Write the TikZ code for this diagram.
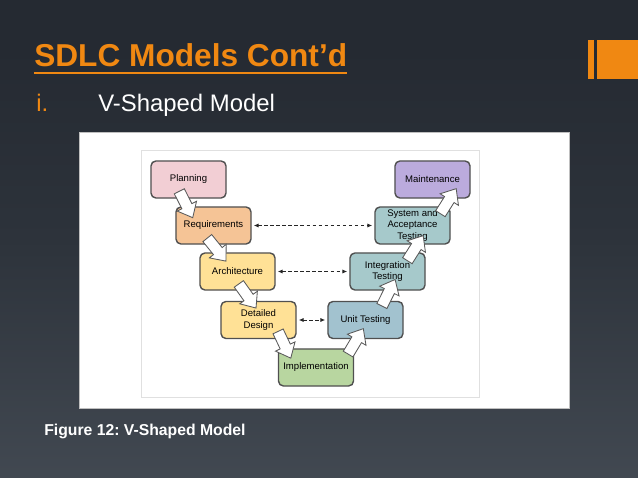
\documentclass[tikz,border=0pt]{standalone}
\usepackage{fontspec}
\setmainfont{Liberation Sans}
\usetikzlibrary{shapes.arrows, arrows.meta, positioning, calc}
\frenchspacing

\definecolor{slideorange}{RGB}{240,136,18}
\definecolor{bgtop}{RGB}{37,42,50}
\definecolor{bgmid}{RGB}{45,51,59}
\definecolor{bglow}{RGB}{68,75,84}
\definecolor{bgbot}{RGB}{98,104,112}
\definecolor{boxline}{RGB}{80,80,80}
\definecolor{planfill}{RGB}{242,206,212}
\definecolor{reqfill}{RGB}{245,196,150}
\definecolor{archfill}{RGB}{255,225,150}
\definecolor{implfill}{RGB}{184,214,160}
\definecolor{unitfill}{RGB}{162,194,207}
\definecolor{testfill}{RGB}{166,201,203}
\definecolor{maintfill}{RGB}{187,171,221}

\pgfdeclareverticalshading{slidebg}{100bp}{color(0bp)=(bgbot); color(22bp)=(bglow); color(50bp)=(bgmid); color(70bp)=(bgtop); color(100bp)=(bgtop)}

\begin{document}
\begin{tikzpicture}[
    x=0.025cm, y=-0.025cm,
    phase/.style={rectangle, draw=boxline, line width=1pt, rounded corners=3.5pt, minimum width=1.875cm, minimum height=0.925cm, inner sep=1pt, align=center, font=\fontsize{6.8}{8.2}\selectfont, text=black},
    flow/.style={single arrow, draw=black!65, fill=white, line width=0.6pt, inner sep=0.13cm, single arrow head extend=0.13cm, single arrow tip angle=80, minimum height=0.74cm, sloped},
    link/.style={{Latex[length=3.4pt,width=3pt]}-{Latex[length=3.4pt,width=3pt]}, dashed, dash pattern=on 2.5pt off 1.8pt, line width=0.65pt, black!85, shorten >=1.5pt, shorten <=1.5pt}
]
    \useasboundingbox (0,0) rectangle (638,478);
    \shade[shading=slidebg] (0,0) rectangle (638,478);

    % heading
    \node[anchor=base west, inner sep=0, text=slideorange, font=\fontsize{22.5}{26}\selectfont\bfseries] (title) at (34,67) {SDLC Models Cont’d};
    \draw[slideorange, line width=1.6pt] ($(title.base west)+(0,6)$) -- ($(title.base east)+(0,6)$);
    \fill[slideorange] (588,40) rectangle (594,79);
    \fill[slideorange] (597,40) rectangle (638,79);
    \node[anchor=base west, inner sep=0, text=slideorange, font=\fontsize{17}{20}\selectfont] (num) at (36,112) {i.};
    \node[anchor=base west, inner sep=0, text=white, font=\fontsize{17}{20}\selectfont] (sub) at (98,112) {V-Shaped Model};

    % figure panel
    \filldraw[fill=white, draw=black!25, line width=0.5pt] (79,132) rectangle (569,408);
    \draw[black!12, line width=0.6pt] (141,150) rectangle (479,397);

    \node[phase, fill=planfill] (plan) at (188.5,179.5) {Planning};
    \node[phase, fill=reqfill] (req) at (213.5,225.5) {Requirements};
    \node[phase, fill=archfill] (arch) at (237.5,271.5) {Architecture};
    \node[phase, fill=archfill] (design) at (258.5,320) {Detailed\\Design};
    \node[phase, fill=implfill] (impl) at (316,367.5) {Implementation};
    \node[phase, fill=unitfill] (unit) at (365.5,320) {Unit Testing};
    \node[phase, fill=testfill] (integ) at (387.5,271.5) {Integration\\Testing};
    \node[phase, fill=testfill] (sys) at (412.5,225.5) {System and\\Acceptance\\Testing};
    \node[phase, fill=maintfill] (maint) at (432.5,179.5) {Maintenance};

    \draw[link] (req) -- (sys);
    \draw[link] (arch) -- (integ);
    \draw[link] (design) -- (unit);

    % phase to phase
    \path ($(plan.south)+(-10.5,-10)$) -- ($(req.north)+(-22.5,8)$) node[flow, midway] {};
    \path ($(req.south)+(-6.5,-7)$) -- ($(arch.north)+(-15.5,4)$) node[flow, midway] {};
    \path ($(arch.south)+(0.5,-8)$) -- ($(design.north)+(-5.5,3)$) node[flow, midway] {};
    \path ($(design.south)+(19.5,-8)$) -- ($(impl.north)+(-28,4)$) node[flow, midway] {};
    \path ($(impl.north)+(32,6)$) -- ($(unit.south)+(-5.5,-5)$) node[flow, midway] {};
    \path ($(unit.north)+(16.5,5)$) -- ($(integ.south)+(4.5,-5)$) node[flow, midway] {};
    \path ($(integ.north)+(19.5,9)$) -- ($(sys.south)+(7.5,-4)$) node[flow, midway] {};
    \path ($(sys.north)+(27.5,8)$) -- ($(maint.south)+(20.5,-5)$) node[flow, midway] {};

    \node[anchor=base west, inner sep=0, text=white, font=\fontsize{11.2}{14}\selectfont\bfseries] (caption) at (44,435) {Figure 12: V-Shaped Model};
\end{tikzpicture}
\end{document}
